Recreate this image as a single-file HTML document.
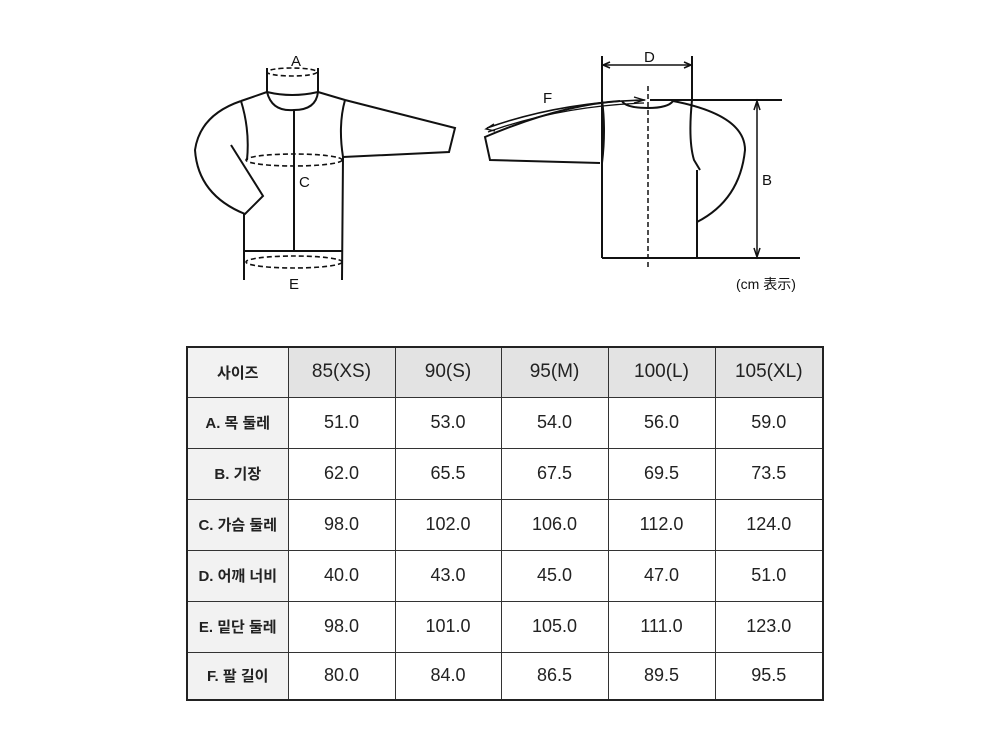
<!DOCTYPE html>
<html><head><meta charset="utf-8"><style>
body{margin:0;width:1000px;height:751px;background:#fff;position:relative;overflow:hidden;font-family:"Liberation Sans","Noto Sans CJK KR",sans-serif}
svg{position:absolute;left:0;top:0}
table{position:absolute;left:186px;top:346px;border-collapse:collapse;border:2px solid #222;table-layout:fixed;width:636px}
td{border:1px solid #333;text-align:center;font-size:18px;color:#222;padding:0}
tr.h td{background:#e3e3e3;font-size:19px}
tr.h td.f,td.f{background:#f2f2f2;font-weight:bold;font-size:15px}
</style></head><body>
<svg width="1000" height="751" viewBox="0 0 1000 751" fill="none" stroke="#111" stroke-width="2">
<line x1="267" y1="68" x2="267" y2="92"/><line x1="318" y1="68" x2="318" y2="92"/>
<ellipse cx="292" cy="72" rx="25" ry="4" stroke-dasharray="5,3" stroke-width="1.6"/>
<path d="M267 92 Q292 98 318 92"/>
<path d="M267 92 Q272 112 294 110 Q316 110 318 92"/>
<path d="M267 92 L241 101"/>
<path d="M318 92 L345 100 L455 128 L449 152 L343 157"/>
<path d="M345 100 Q338 125 343 157 L342 280"/>
<path d="M241 101 Q250 130 247 160"/>
<path d="M241 101 Q200 115 195 150 Q198 195 245 214 L263 196 L231 145"/>
<line x1="244" y1="214" x2="244" y2="280"/>
<line x1="244" y1="251" x2="342" y2="251"/>
<line x1="294" y1="110" x2="294" y2="251"/>
<ellipse cx="294" cy="160" rx="48" ry="6" stroke-dasharray="5,3" stroke-width="1.6"/>
<ellipse cx="294" cy="262" rx="48" ry="6" stroke-dasharray="5,3" stroke-width="1.6"/>
<line x1="602" y1="56" x2="602" y2="258"/>
<line x1="692" y1="56" x2="692" y2="100"/>
<line x1="604" y1="65" x2="690" y2="65" stroke-width="1.5"/>
<path d="M610 62 L603 65 L610 68 M684 62 L691 65 L684 68" stroke-width="1.5"/>
<line x1="650" y1="100" x2="782" y2="100"/>
<path d="M622 101 Q626 108 648 108 Q668 108 673 101"/>
<line x1="648" y1="86" x2="648" y2="268" stroke-dasharray="5,3" stroke-width="1.5"/>
<line x1="602" y1="258" x2="800" y2="258"/>
<line x1="757" y1="102" x2="757" y2="256" stroke-width="1.5"/>
<path d="M754 110 L757 101 L760 110 M754 248 L757 257 L760 248" stroke-width="1.5"/>
<path d="M673 101 Q745 115 745 150 Q740 200 697 222"/>
<path d="M692 100 Q688 140 694 160 L700 170"/>
<line x1="697" y1="170" x2="697" y2="258"/>
<path d="M620 101 Q560 105 485 137 L490 160 L600 163"/>
<path d="M602 163 Q606 130 602 100"/>
<path d="M645 100 Q560 102 487 128" stroke-width="1.6"/>
<path d="M644 103 Q560 106 488 132" stroke-width="1.3"/>
<path d="M494 124 L486 129 L495 131" stroke-width="1.4"/>
<path d="M634 97 L644 100 L634 103" stroke-width="1.4"/>
<g fill="#111" stroke="none" font-family="Liberation Sans, sans-serif" font-size="15">
<text x="291" y="66">A</text><text x="299" y="187">C</text><text x="289" y="289">E</text>
<text x="644" y="62">D</text><text x="543" y="103">F</text><text x="762" y="185">B</text>
<text x="736" y="289" font-size="14" font-family="Liberation Sans, Noto Sans CJK JP, sans-serif">(cm 表示)</text>
</g>
</svg>
<table>
<colgroup><col style="width:101px"><col style="width:107px"><col style="width:106px"><col style="width:107px"><col style="width:107px"><col style="width:108px"></colgroup>
<tr class="h" style="height:50px"><td class="f">사이즈</td><td>85(XS)</td><td>90(S)</td><td>95(M)</td><td>100(L)</td><td>105(XL)</td></tr>
<tr style="height:51px"><td class="f">A. 목 둘레</td><td>51.0</td><td>53.0</td><td>54.0</td><td>56.0</td><td>59.0</td></tr>
<tr style="height:51px"><td class="f">B. 기장</td><td>62.0</td><td>65.5</td><td>67.5</td><td>69.5</td><td>73.5</td></tr>
<tr style="height:51px"><td class="f">C. 가슴 둘레</td><td>98.0</td><td>102.0</td><td>106.0</td><td>112.0</td><td>124.0</td></tr>
<tr style="height:51px"><td class="f">D. 어깨 너비</td><td>40.0</td><td>43.0</td><td>45.0</td><td>47.0</td><td>51.0</td></tr>
<tr style="height:51px"><td class="f">E. 밑단 둘레</td><td>98.0</td><td>101.0</td><td>105.0</td><td>111.0</td><td>123.0</td></tr>
<tr style="height:48px"><td class="f">F. 팔 길이</td><td>80.0</td><td>84.0</td><td>86.5</td><td>89.5</td><td>95.5</td></tr>
</table>
</body></html>
